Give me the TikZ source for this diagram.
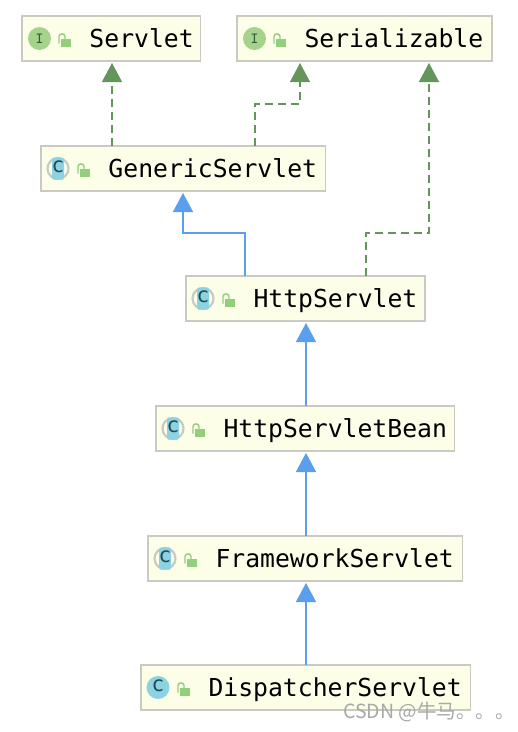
\documentclass[tikz,border=0pt]{standalone}
\usepackage{fontspec}
\setmainfont{DejaVu Sans Mono}
\newfontfamily\wmfont{Noto Sans CJK SC}
\usetikzlibrary{arrows.meta}
\definecolor{boxfill}{HTML}{FDFEE8}
\definecolor{boxline}{HTML}{CACAC2}
\definecolor{greenline}{HTML}{64955A}
\definecolor{blueline}{HTML}{5A9EEE}
\definecolor{ifill}{HTML}{A5D38C}
\definecolor{cfill}{HTML}{8DD2E0}
\definecolor{lockg}{HTML}{92CF7C}
\definecolor{parens}{HTML}{C6CBC6}
\definecolor{wm}{HTML}{A8A8A8}
\definecolor{iglyph}{HTML}{2F5E38}
\definecolor{cglyph}{HTML}{1F4A58}
\tikzset{
  cls/.style={draw=boxline,line width=1.6pt,fill=boxfill,anchor=north west,
    font=\fontsize{24.75}{28}\selectfont,text=black,
    inner xsep=0pt,inner ysep=12pt,text height=19pt,text depth=2pt,
    align=left,outer sep=0pt},
  impl/.style={draw=greenline,line width=1.4pt,dash pattern=on 8pt off 5pt,
    shorten >=2pt,-{Triangle[width=20pt,length=19pt,fill=greenline]}},
  ext/.style={draw=blueline,line width=1.4pt,
    shorten >=2pt,-{Triangle[width=20pt,length=19pt,fill=blueline]}},
  iglyphstyle/.style={font=\fontsize{13}{13}\selectfont,text=iglyph,inner sep=0pt},
  cglyphstyle/.style={font=\fontsize{21}{21}\selectfont,text=cglyph,inner sep=0pt},
}
% box: name, x, y, right padding, text
\newcommand{\clsbox}[5]{\node[cls] (#1) at (#2,#3) {\hspace{67.5pt}#5\hspace{#4pt}};}
\newcommand{\lockicon}[1]{%
  \begin{scope}[shift={(#1)}]
    \fill[lockg] (39,0) rectangle (49,8.5);
    \draw[lockg,line width=1.4pt] (37,5) -- (37,-2) .. controls (37,-5.5) and (43,-5.5) .. (43,-2) -- (43,0.5);
  \end{scope}}
\newcommand{\interfaceicon}[1]{%
  \fill[ifill] ([xshift=17.5pt]#1.west) circle[radius=11.5];
  \node[iglyphstyle] (#1glyph) at ([xshift=17.5pt]#1.west) {I};
  \lockicon{#1.west}}
\newcommand{\abstracticon}[1]{%
  \begin{scope}[shift={(#1.west)}]
    \draw[parens,line width=2.2pt] (17,0) circle[radius=10.5];
    \fill[cfill,rounded corners=1.5pt] (11,-11) rectangle (23,11);
  \end{scope}
  \node[cglyphstyle,yshift=1.5pt] (#1glyph) at ([xshift=17pt]#1.west) {c};
  \lockicon{#1.west}}
\begin{document}
\begin{tikzpicture}[x=1pt,y=-1pt,line cap=butt]
\useasboundingbox (0,0) rectangle (518,732);
\clsbox{servlet}{22}{16}{6.5}{Servlet}
\clsbox{serial}{237}{16}{8.5}{Serializable}
\clsbox{generic}{41}{146}{8.5}{GenericServlet}
\clsbox{http}{186}{276}{7.5}{HttpServlet}
\clsbox{bean}{156}{406}{7.5}{HttpServletBean}
\clsbox{frame}{148}{536}{8.5}{FrameworkServlet}
\clsbox{disp}{141}{665}{8.5}{DispatcherServlet}

\interfaceicon{servlet}
\interfaceicon{serial}
\abstracticon{generic}
\abstracticon{http}
\abstracticon{bean}
\abstracticon{frame}
\fill[cfill] ([xshift=17pt]disp.west) circle[radius=11.5];
\node[cglyphstyle,yshift=1.5pt] (dispglyph) at ([xshift=17pt]disp.west) {c};
\lockicon{disp.west}

% connectors
\coordinate (a2) at ([xshift=90pt]servlet.south west);
\draw[impl] (generic.north -| a2) -- (servlet.south -| a2);

\coordinate (b1) at ([xshift=214pt]generic.north west);
\coordinate (b2) at ([xshift=63pt]serial.south west);
\draw[impl] (b1) -- ++(0,-42) -| (b2);

\coordinate (c1) at ([xshift=180pt]http.north west);
\coordinate (c2) at ([xshift=192pt]serial.south west);
\draw[impl] (c1) -- ++(0,-43) -| (c2);

\coordinate (d1) at ([xshift=59pt]http.north west);
\coordinate (d2) at ([xshift=142pt]generic.south west);
\draw[ext] (d1) -- ++(0,-43) -| (d2);

\coordinate (e1) at ([xshift=150pt]bean.north west);
\draw[ext] (e1) -- (e1 |- http.south);
\coordinate (f1) at ([xshift=158pt]frame.north west);
\draw[ext] (f1) -- (f1 |- bean.south);
\coordinate (g1) at ([xshift=165pt]disp.north west);
\draw[ext] (g1) -- (g1 |- frame.south);

\node[font=\wmfont\fontsize{19.5}{20}\selectfont,text=wm,anchor=west,inner sep=0pt] (wmark) at (343,712) {CSDN @牛马。。。};
\end{tikzpicture}
\end{document}
